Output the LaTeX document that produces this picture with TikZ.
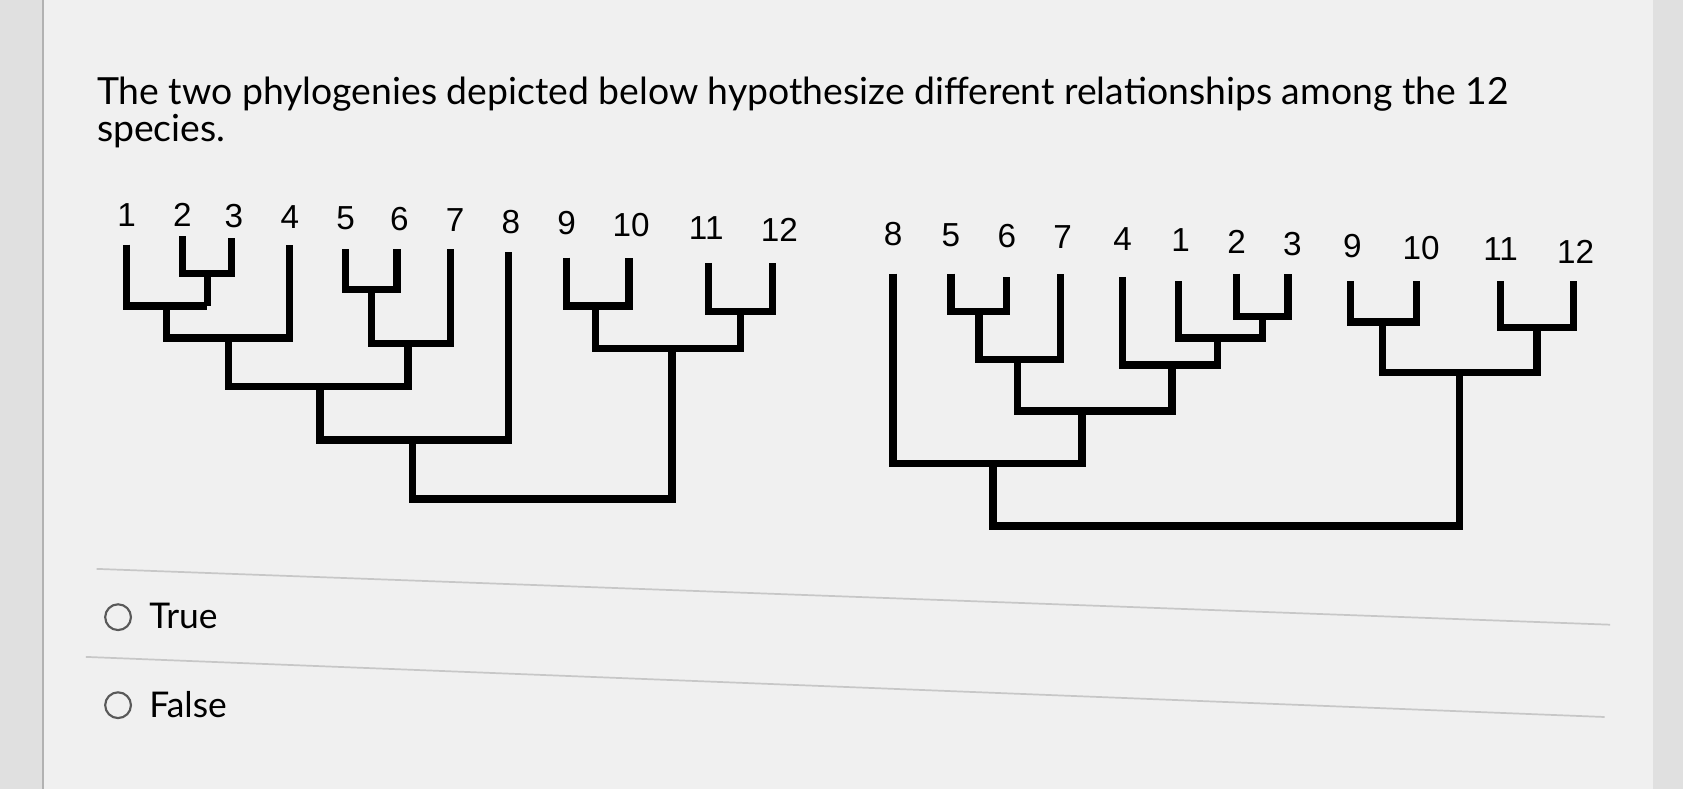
\documentclass[tikz,border=0pt]{standalone}
\usepackage{fontspec}
\setmainfont{Lato}
\newfontfamily\labfont{Liberation Sans}
\begin{document}
\begin{tikzpicture}[x=0.5pt,y=-0.5pt,
  br/.style={line width=3.4pt,line join=miter,line cap=butt},
  lab/.style={font=\labfont\fontsize{15.5}{17}\selectfont},
  sep/.style={draw=black!22,line width=0.8pt}]
\useasboundingbox (0,0) rectangle (1568,735);
\fill[black!12] (0,0) rectangle (1568,735);
\fill[black!6] (40,0) rectangle (1540,735);
\draw[black!30,line width=1pt] (40,0) -- (40,735);
\node[anchor=west,font=\fontsize{17.4}{19}\selectfont,inner sep=1pt] (t1) at (88,88) {The two phylogenies depicted below hypothesize different relationships among the 12};
\node[anchor=west,font=\fontsize{17.4}{19}\selectfont,inner sep=1pt] (t2) at (88,122) {species.};
% tree 1 labels
\foreach \x/\t/\y in {118/1/200,170/2/200,218/3/201,270/4/202,322/5/203,372/6/204,424/7/205,476/8/207,528/9/208,588/10/210,658/11/212,726/12/214}
  \node[lab] (a\t) at (\x,\y) {\t};
% tree 1 branches
\draw[br] (118,228) -- (118,285) -- (193,285);
\draw[br] (170,220) -- (170,255) -- (216,255) -- (216,222);
\draw[br] (193,255) -- (193,285);
\draw[br] (155,285) -- (155,315) -- (270,315) -- (270,228);
\draw[br] (322,232) -- (322,270) -- (370,270) -- (370,232);
\draw[br] (346,270) -- (346,320) -- (420,320) -- (420,232);
\draw[br] (213,315) -- (213,360) -- (380,360) -- (380,320);
\draw[br] (298,360) -- (298,410) -- (474,410) -- (474,235);
\draw[br] (528,240) -- (528,285) -- (586,285) -- (586,240);
\draw[br] (660,245) -- (660,290) -- (720,290) -- (720,245);
\draw[br] (555,285) -- (555,325) -- (690,325) -- (690,290);
\draw[br] (384,410) -- (384,465) -- (626,465) -- (626,325);
% tree 2 labels
\foreach \x/\t/\y/\n in {832/8/218/b8,886/5/219/b5,938/6/220/b6,990/7/221/b7,1046/4/223/b4,1100/1/224/b1,1152/2/225/b2,1204/3/227/b3,1260/9/229/b9,1324/10/231/b10,1398/11/232/b11,1468/12/235/b12}
  \node[lab] (\n) at (\x,\y) {\t};
\draw[br] (886,255) -- (886,290) -- (938,290) -- (938,258);
\draw[br] (912,290) -- (912,335) -- (988,335) -- (988,255);
\draw[br] (1152,255) -- (1152,295) -- (1200,295) -- (1200,255);
\draw[br] (1098,262) -- (1098,315) -- (1176,315) -- (1176,295);
\draw[br] (1046,258) -- (1046,340) -- (1134,340) -- (1134,315);
\draw[br] (948,335) -- (948,383) -- (1092,383) -- (1092,340);
\draw[br] (832,255) -- (832,432) -- (1008,432) -- (1008,383);
\draw[br] (1258,262) -- (1258,300) -- (1320,300) -- (1320,262);
\draw[br] (1398,262) -- (1398,305) -- (1466,305) -- (1466,262);
\draw[br] (1288,300) -- (1288,347) -- (1432,347) -- (1432,305);
\draw[br] (925,432) -- (925,490) -- (1360,490) -- (1360,347);
% answers
\draw[sep] (90,530) -- (1500,582);
\draw[sep] (80,612) -- (1495,668);
\draw[black!65,line width=1pt] (110,575) circle (12);
\draw[black!65,line width=1pt] (110,657) circle (12);
\node[anchor=west,font=\fontsize{16.5}{18}\selectfont] (tr) at (132,574) {True};
\node[anchor=west,font=\fontsize{16.5}{18}\selectfont] (fa) at (132,656) {False};
\end{tikzpicture}
\end{document}
